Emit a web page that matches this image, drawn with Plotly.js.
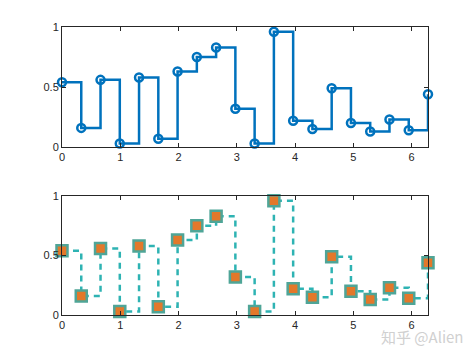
<!DOCTYPE html>
<html>
<head>
<meta charset="utf-8">
<script src="https://cdn.plot.ly/plotly-3.0.1.min.js"></script>
<style>
html,body{margin:0;padding:0;background:#fff;}
#chart{width:474px;height:355px;}
</style>
</head>
<body>
<div id="chart"></div>
<script>
var xVals = [0, 0.3307, 0.6614, 0.9921, 1.3228, 1.6535, 1.9842, 2.3149, 2.6456, 2.9762,
             3.3069, 3.6376, 3.9683, 4.2990, 4.6297, 4.9604, 5.2911, 5.6218, 5.9525, 6.2832];
var yVals = [0.54, 0.16, 0.56, 0.03, 0.58, 0.07, 0.63, 0.75, 0.83, 0.32,
             0.03, 0.96, 0.22, 0.15, 0.49, 0.20, 0.13, 0.23, 0.14, 0.44];
var xTicks = [0, 1, 2, 3, 4, 5, 6];
var yTicks = [0, 0.5, 1];
var yTickText = ['0', '0.5', '1'];
var watermark = '知乎 @Alien';

var axisCommon = {
  showline: true, linecolor: '#262626', linewidth: 1, mirror: 'ticks',
  ticks: 'inside', ticklen: 4, tickcolor: '#262626', tickwidth: 1,
  showgrid: false, zeroline: false,
  tickfont: {family: 'Liberation Sans, Arial, sans-serif', size: 11, color: '#262626'}
};

function ax(extra) { return Object.assign({}, axisCommon, extra); }

var traces = [
  {
    x: xVals, y: yVals, xaxis: 'x', yaxis: 'y',
    mode: 'lines+markers', type: 'scatter',
    line: {shape: 'hv', color: '#0072BD', width: 2.5},
    marker: {symbol: 'circle-open', size: 8, color: '#0072BD', line: {width: 2.5, color: '#0072BD'}},
    cliponaxis: false, hoverinfo: 'none'
  },
  {
    x: xVals, y: yVals, xaxis: 'x2', yaxis: 'y2',
    mode: 'lines+markers', type: 'scatter',
    line: {shape: 'hv', color: '#2EB3B3', width: 2.5, dash: '6px,5px'},
    marker: {symbol: 'square', size: 11, color: '#E3782A', line: {width: 2.5, color: '#4FA597'}},
    cliponaxis: false, hoverinfo: 'none'
  }
];

var layout = {
  width: 474, height: 355,
  margin: {l: 62, r: 46, t: 27, b: 40},
  paper_bgcolor: '#ffffff', plot_bgcolor: '#ffffff',
  showlegend: false,
  xaxis: ax({domain: [0, 1], anchor: 'y', range: [0, 6.2832], tickvals: xTicks, ticktext: xTicks.map(String)}),
  yaxis: ax({domain: [0.583, 1], anchor: 'x', range: [0, 1], tickvals: yTicks, ticktext: yTickText}),
  xaxis2: ax({domain: [0, 1], anchor: 'y2', range: [0, 6.2832], tickvals: xTicks, ticktext: xTicks.map(String)}),
  yaxis2: ax({domain: [0, 0.413], anchor: 'x2', range: [0, 1], tickvals: yTicks, ticktext: yTickText}),
  annotations: [{
    text: watermark, xref: 'paper', yref: 'paper', x: 0.984, y: -0.073,
    xanchor: 'center', yanchor: 'middle', showarrow: false,
    font: {family: 'Noto Sans CJK SC, sans-serif', size: 15, color: '#d0d0d0'}
  }]
};

Plotly.newPlot('chart', traces, layout, {displayModeBar: false, staticPlot: true});
</script>
</body>
</html>
